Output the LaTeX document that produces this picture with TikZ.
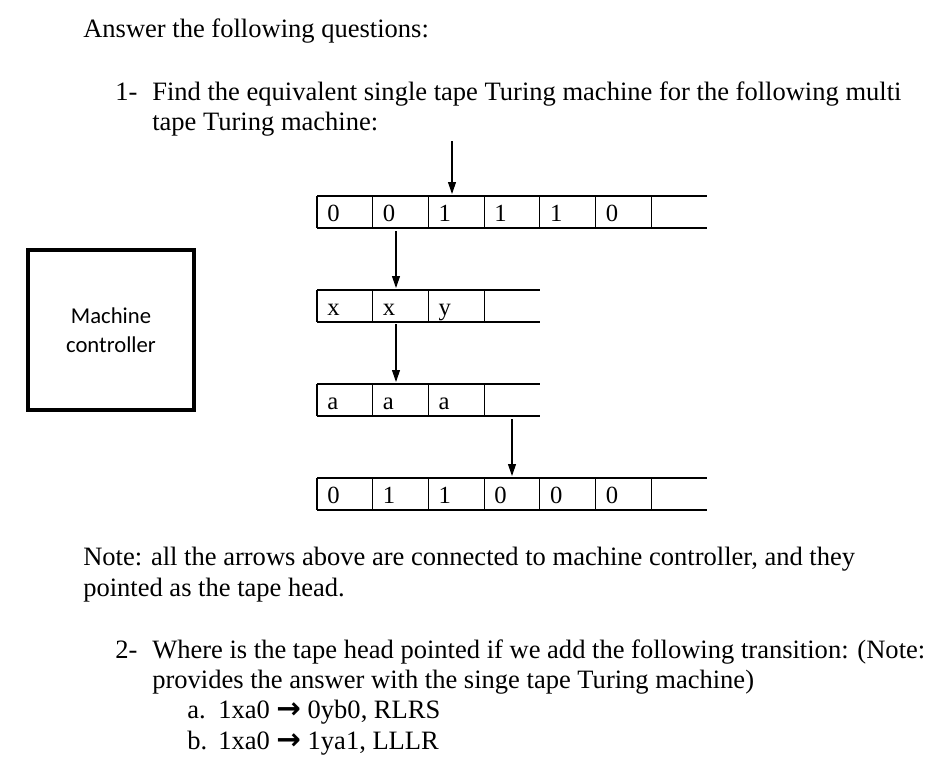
\documentclass[tikz,border=0pt]{standalone}
\usepackage{fontspec}
\setmainfont{Liberation Serif}
\newfontfamily\arr{DejaVu Sans}
\newfontfamily\ctl{Carlito}
\usetikzlibrary{arrows.meta}
\begin{document}
\begin{tikzpicture}[x=0.75pt,y=-0.75pt,
  txt/.style={anchor=base west,inner sep=0,font=\fontsize{19.9}{22}\selectfont},
  cell/.style={anchor=base west,inner sep=0,font=\fontsize{18.5}{20}\selectfont},
  head/.style={-{Triangle[length=9pt,width=6pt]},line width=0.8pt}]
\useasboundingbox (0,0) rectangle (947,776);
\node[txt] (t0) at (83,37) {Answer the following questions:};
\node[txt] (t1) at (115,100) {1-};
\node[txt] (t1a) at (152,100) {Find the equivalent single tape Turing machine for the following multi};
\node[txt] (t1b) at (152,130) {tape Turing machine:};
% machine box
\draw[line width=2.4pt] (28,250) rectangle (194,410);
\node[font=\ctl\fontsize{17}{22}\selectfont,align=center] (mc) at (111,330) {Machine\\controller};
% tapes
\foreach \y/\n/\lst in {196/7/{0,0,1,1,1,0}, 290/4/{x,x,y}, 384/4/{a,a,a}, 478/7/{0,1,1,0,0,0}}{
  \pgfmathsetmacro\xe{317+55.7*\n}
  \draw[line width=0.8pt] (317,\y) -- (\xe,\y) (317,\y+32) -- (\xe,\y+32);
  \pgfmathsetmacro\nm{\n-1}
  \foreach \i in {0,...,\nm}{ \draw[line width=0.8pt] (317+55.7*\i,\y) -- (317+55.7*\i,\y+32); }
  \foreach \s [count=\k from 0] in \lst { \node[cell] at (327+55.7*\k,\y+25) {\s}; }
}
\coordinate (a1s) at (452,141); \coordinate (a1e) at (452,194);
\coordinate (a2s) at (396,231); \coordinate (a2e) at (396,288);
\coordinate (a3s) at (396,324); \coordinate (a3e) at (396,382);
\coordinate (a4s) at (512,419); \coordinate (a4e) at (512,476);
\draw[head] (a1s) -- (a1e);
\draw[head] (a2s) -- (a2e);
\draw[head] (a3s) -- (a3e);
\draw[head] (a4s) -- (a4e);
\node[txt] (n1) at (83,565) {Note: all the arrows above are connected to machine controller, and they};
\node[txt] (n2) at (83,596) {pointed as the tape head.};
\node[txt] (q2) at (115,658) {2-};
\node[txt] (q2a) at (152,658) {Where is the tape head pointed if we add the following transition: (Note:};
\node[txt] (q2b) at (152,688) {provides the answer with the singe tape Turing machine)};
\node[txt] (qa) at (187,718) {a.};
\node[txt] (qaa) at (218,718) {1xa0 {\arr\bfseries\fontsize{22}{22}\selectfont →} 0yb0, RLRS};
\node[txt] (qb) at (187,749) {b.};
\node[txt] (qbb) at (218,749) {1xa0 {\arr\bfseries\fontsize{22}{22}\selectfont →} 1ya1, LLLR};
\end{tikzpicture}
\end{document}
